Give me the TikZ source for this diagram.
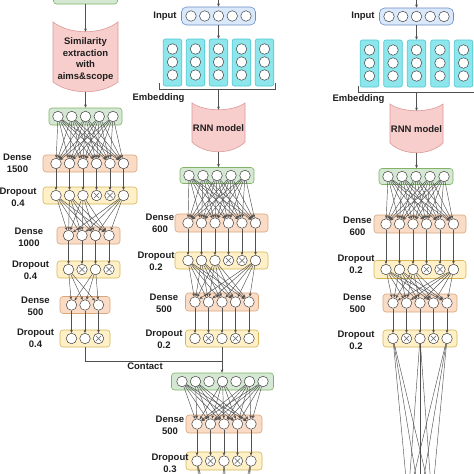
\documentclass[tikz,border=0pt]{standalone}
\usepackage{fontspec}
\setmainfont{Liberation Sans}
\usetikzlibrary{arrows.meta}
\definecolor{grnF}{HTML}{D5E8D4}
\definecolor{grnD}{HTML}{82B366}
\definecolor{denF}{HTML}{FADCC6}
\definecolor{denD}{HTML}{D7A67A}
\definecolor{drpF}{HTML}{FFF0C8}
\definecolor{drpD}{HTML}{D6B656}
\definecolor{inF}{HTML}{DAE8FC}
\definecolor{inD}{HTML}{6C8EBF}
\definecolor{embF}{HTML}{8DE6EC}
\definecolor{embD}{HTML}{50C8D2}
\definecolor{rnnF}{HTML}{F8CECC}
\definecolor{rnnD}{HTML}{D99A98}
\definecolor{wirec}{HTML}{505050}
\tikzset{
 neuron/.style={circle, draw=black!75, fill=white, line width=0.5pt, minimum size=10.5pt, inner sep=0pt},
 dropn/.style={neuron, path picture={\draw[black!60,line width=0.4pt]
   ([shift={(-2.7pt,-2.7pt)}]path picture bounding box.center) -- ([shift={(2.7pt,2.7pt)}]path picture bounding box.center)
   ([shift={(-2.7pt,2.7pt)}]path picture bounding box.center) -- ([shift={(2.7pt,-2.7pt)}]path picture bounding box.center);}},
 layerbox/.style={rounded corners=3pt, line width=0.6pt, inner sep=0pt},
 greenbox/.style={layerbox, draw=grnD, fill=grnF},
 densebox/.style={layerbox, draw=denD, fill=denF},
 dropbox/.style={layerbox, draw=drpD, fill=drpF},
 inbox/.style={layerbox, rounded corners=5pt, draw=inD, fill=inF},
 embbox/.style={layerbox, rounded corners=2pt, draw=embD, fill=embF},
 banner/.style={draw=rnnD, fill=rnnF, line width=0.6pt},
 lbl/.style={font=\bfseries\fontsize{9.5}{11.6}\selectfont, align=center, text=black!88, inner sep=0pt},
 wire/.style={draw=wirec, line width=0.45pt},
 arr/.style={wire, -{Stealth[length=3.2pt,width=2.8pt]}},
}
\newcommand\mklayer[7]{%
  \node[#2, minimum width=#5, minimum height=#6] (#1) at (#3,#4) {};
  \foreach \xx/\ty [count=\ii] in {#7}{\node[\ty] (#1-\ii) at (\xx,#4) {};}}
\newcommand\fullconn[4]{\foreach \sa in {#2}{\foreach \ta in {#4}{\draw[arr] (#1-\sa) -- (#3-\ta);}}}
\newcommand\vertconn[3]{\foreach \sa in {1,...,#3}{\draw[arr] (#1-\sa) -- (#2-\sa);}}
\newcommand\emblayer[3]{% prefix, y center, list of x
  \foreach \ex [count=\kk] in {#3}{%
    \node[embbox, minimum width=18.5, minimum height=47] (#1-\kk) at (\ex,#2) {};
    \foreach \dy [count=\jj] in {-13.5,-0.5,12.5}{\node[neuron] (#1-\kk-\jj) at (\ex,#2+\dy) {};}}}
\begin{document}
\begin{tikzpicture}[x=1pt,y=-1pt]
\useasboundingbox (0,0) rectangle (474,474);
\clip (0,0) rectangle (474,474);

% ================= LEFT COLUMN =================
\node[greenbox, minimum width=64, minimum height=16] (T0) at (85.5,-4) {};
\draw[banner] (53,22) .. controls (70,35) and (101,35) .. (118,22) -- (118,82) .. controls (101,95) and (70,95) .. (53,82) -- cycle;
\coordinate (B1t) at (85.5,31.75);
\coordinate (B1b) at (85.5,91.75);
\node[lbl] (B1) at (85.5,59.5) {Similarity\\extraction\\with\\aims\&scope};
\draw[arr] (T0) -- (B1t);

\mklayer{G1}{greenbox}{85.5}{116.5}{73}{17}{58/neuron,71.75/neuron,85.5/neuron,99.25/neuron,113/neuron}
\draw[arr] (B1b) -- (G1);
\mklayer{D1}{densebox}{90}{163.5}{94}{17}{56/neuron,69.5/neuron,83/neuron,96.5/neuron,110/neuron,123.5/neuron}
\mklayer{P1}{dropbox}{90}{195.5}{94}{17}{56/neuron,69.5/neuron,83/neuron,96.5/dropn,110/dropn,123.5/neuron}
\mklayer{D2}{densebox}{88.5}{235.5}{63}{17}{68.5/neuron,82/neuron,95.5/neuron,109/neuron}
\mklayer{P2}{dropbox}{88.5}{269.5}{63}{17}{68.5/neuron,82/dropn,95.5/neuron,109/dropn}
\mklayer{D3}{densebox}{85}{305}{50}{17}{71.5/neuron,85/neuron,98.5/neuron}
\mklayer{P3}{dropbox}{85}{338.5}{50}{17}{71.5/neuron,85/neuron,98.5/dropn}
\fullconn{G1}{1,...,5}{D1}{1,...,6}
\vertconn{D1}{P1}{6}
\fullconn{P1}{1,2,3,6}{D2}{1,...,4}
\vertconn{D2}{P2}{4}
\fullconn{P2}{1,3}{D3}{1,2,3}
\vertconn{D3}{P3}{3}
\node[lbl] (l1) at (17.5,163) {Dense\\1500};
\node[lbl] (l2) at (18,197) {Dropout\\0.4};
\node[lbl] (l3) at (29,237) {Dense\\1000};
\node[lbl] (l4) at (30.5,270) {Dropout\\0.4};
\node[lbl] (l5) at (35.5,306) {Dense\\500};
\node[lbl] (l6) at (35.5,338.5) {Dropout\\0.4};

% ================= MIDDLE COLUMN =================
\coordinate (I1in) at (218.5,-12);
\node[inbox, minimum width=74, minimum height=18] (I1) at (218.5,16) {};
\foreach \xx [count=\ii] in {191,204.75,218.5,232.25,246}{\node[neuron] (I1-\ii) at (\xx,16) {};}
\draw[arr] (I1in) -- (I1);
\node[lbl] (li1) at (165,16) {Input};
\emblayer{E1}{62.5}{172.5,195.5,218.5,241.5,264.5}
\draw[arr] (I1) -- (E1-3);
\coordinate (Br1) at (218.5,89);
\draw[wire] (159,83) -- (159,89) -- (275,89) -- (275,83);
\node[lbl] (le1) at (158.5,98) {Embedding};
\draw[banner] (192,103) .. controls (205,112) and (232,112) .. (245,103) -- (245,142) .. controls (232,155) and (205,155) .. (192,142) -- cycle;
\coordinate (R1t) at (218.5,109.75);
\coordinate (R1b) at (218.5,151.75);
\node[lbl] (R1) at (218.5,128) {RNN model};
\draw[arr] (Br1) -- (R1t);

\mklayer{G2}{greenbox}{217}{175.5}{74}{16}{189/neuron,203/neuron,217/neuron,231/neuron,245/neuron}
\draw[arr] (R1b) -- (R1b |- G2.north);
\mklayer{D4}{densebox}{221.5}{223}{93}{18}{188/neuron,201.5/neuron,215/neuron,228.5/neuron,242/neuron,255.5/neuron}
\mklayer{P4}{dropbox}{221.5}{260.5}{93}{17}{188/neuron,201.5/neuron,215/neuron,228.5/dropn,242/dropn,255.5/neuron}
\mklayer{D5}{densebox}{222}{302}{73}{18}{195/neuron,208.5/neuron,222/neuron,235.5/neuron,249/neuron}
\mklayer{P5}{dropbox}{222}{338.5}{73}{17}{195/neuron,208.5/dropn,222/neuron,235.5/dropn,249/neuron}
\fullconn{G2}{1,...,5}{D4}{1,...,6}
\vertconn{D4}{P4}{6}
\fullconn{P4}{1,2,3,6}{D5}{1,...,5}
\vertconn{D5}{P5}{5}
\node[lbl] (m1) at (160,223.5) {Dense\\600};
\node[lbl] (m2) at (156,261.5) {Dropout\\0.2};
\node[lbl] (m3) at (164,303.5) {Dense\\500};
\node[lbl] (m4) at (164,339.5) {Dropout\\0.2};

% ================= CONCATENATION =================
\coordinate (J1) at (85,361);
\coordinate (J2) at (222,361);
\draw[wire] (P3) -- (J1) -- (J2);
\node[lbl] (lc) at (145,366) {Contact};
\mklayer{G3}{greenbox}{222.5}{381.5}{102}{17}{182/neuron,195.5/neuron,209/neuron,222.5/neuron,236/neuron,249.5/neuron,263/neuron}
\draw[arr] (P5) -- (P5.south |- G3.north);
\mklayer{D6}{densebox}{224}{424}{76}{18}{197/neuron,210.5/neuron,224/neuron,237.5/neuron,251/neuron}
\mklayer{P6}{dropbox}{224}{461}{76}{18}{197/neuron,210.5/dropn,224/neuron,237.5/dropn,251/neuron}
\fullconn{G3}{1,2,4,6,7}{D6}{1,...,5}
\vertconn{D6}{P6}{5}
\coordinate (Q1-1) at (213,623);
\coordinate (Q1-2) at (225,623);
\coordinate (Q1-3) at (237,623);
\foreach \sa in {1,3,5}{\foreach \ta in {1,2,3}{\draw[wire] (P6-\sa) -- (Q1-\ta);}}
\node[lbl] (c1) at (170,425) {Dense\\500};
\node[lbl] (c2) at (170,463) {Dropout\\0.3};

% ================= RIGHT COLUMN =================
\coordinate (I2in) at (416.5,-12);
\node[inbox, minimum width=74, minimum height=17] (I2) at (416.5,16.5) {};
\foreach \xx [count=\ii] in {389,402.75,416.5,430.25,444}{\node[neuron] (I2-\ii) at (\xx,16.5) {};}
\draw[arr] (I2in) -- (I2);
\node[lbl] (li2) at (363,16.5) {Input};
\emblayer{E2}{63.5}{369.5,393,416.5,440,463.5}
\draw[arr] (I2) -- (E2-3);
\coordinate (Br2) at (416.5,92);
\draw[wire] (358,86) -- (358,92) -- (482,92) -- (482,86);
\node[lbl] (le2) at (358.5,99.5) {Embedding};
\draw[banner] (390,104) .. controls (403,113) and (430,113) .. (443,104) -- (443,143) .. controls (430,156) and (403,156) .. (390,143) -- cycle;
\coordinate (R2t) at (416.5,110.75);
\coordinate (R2b) at (416.5,152.75);
\node[lbl] (R2) at (416.5,129) {RNN model};
\draw[arr] (Br2) -- (R2t);

\mklayer{G4}{greenbox}{416}{176.5}{74}{16}{388/neuron,402/neuron,416/neuron,430/neuron,444/neuron}
\draw[arr] (R2b) -- (R2b |- G4.north);
\mklayer{D7}{densebox}{420}{224}{92}{18}{386/neuron,399.5/neuron,413/neuron,426.5/neuron,440/neuron,453.5/neuron}
\mklayer{P7}{dropbox}{420}{269.5}{92}{18}{386/neuron,399.5/neuron,413/neuron,426.5/dropn,440/dropn,453.5/neuron}
\mklayer{D8}{densebox}{420}{303}{74}{18}{393/neuron,406.5/neuron,420/neuron,433.5/neuron,447/neuron}
\mklayer{P8}{dropbox}{420}{338.5}{74}{17}{393/neuron,406.5/dropn,420/neuron,433.5/dropn,447/neuron}
\fullconn{G4}{1,...,5}{D7}{1,...,6}
\vertconn{D7}{P7}{6}
\fullconn{P7}{1,2,3,6}{D8}{1,...,5}
\vertconn{D8}{P8}{5}
\coordinate (Q2-1) at (408,500);
\coordinate (Q2-2) at (420,500);
\coordinate (Q2-3) at (432,500);
\foreach \sa in {1,3,5}{\foreach \ta in {1,2,3}{\draw[wire] (P8-\sa) -- (Q2-\ta);}}
\node[lbl] (r1) at (357.5,226.5) {Dense\\600};
\node[lbl] (r2) at (356,264) {Dropout\\0.2};
\node[lbl] (r3) at (357.5,303.5) {Dense\\500};
\node[lbl] (r4) at (356,340) {Dropout\\0.2};
\end{tikzpicture}
\end{document}
